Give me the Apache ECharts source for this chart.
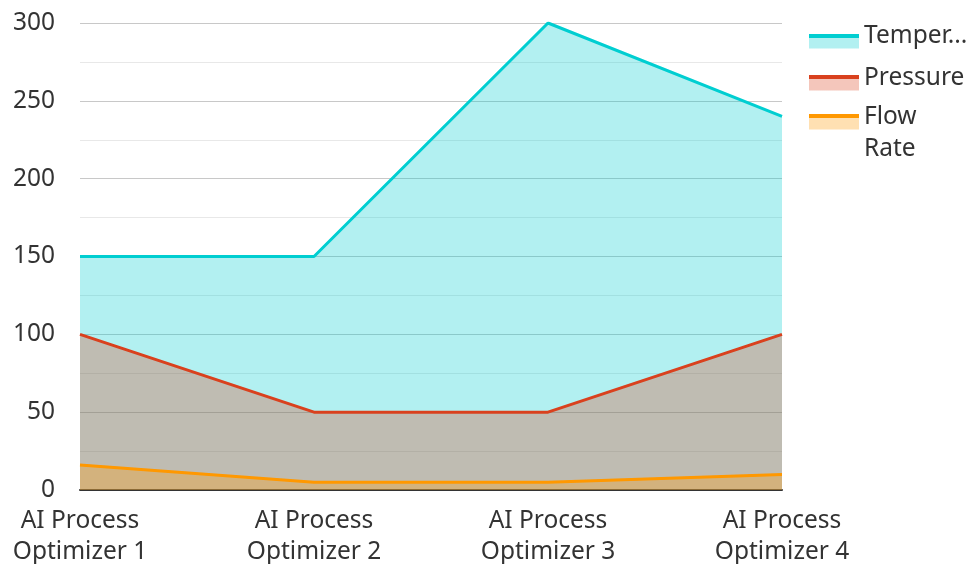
<!DOCTYPE html>
<html>
<head>
<meta charset="utf-8">
<script src="https://cdn.jsdelivr.net/npm/echarts@6/dist/echarts.min.js"></script>
<style>
html,body{margin:0;padding:0;background:#fff;}
#chart{width:972px;height:564px;}
</style>
</head>
<body>
<div id="chart"></div>
<script>
var categories = ['AI Process Optimizer 1', 'AI Process Optimizer 2', 'AI Process Optimizer 3', 'AI Process Optimizer 4'];
var temperature = [150, 150, 300, 240];
var pressure = [100, 50, 50, 100];
var flowRate = [16, 5, 5, 10];
var seriesNames = ['Temperature', 'Pressure', 'Flow Rate'];
var colors = ['#00CED1', '#D9411E', '#FF9800'];
var lightColors = ['#B2F0F1', '#F4C6BB', '#FFE0B2'];

var FONT = '"Noto Sans", sans-serif';
var FS = 24.5;

function wrapWords(text, maxChars) {
  var words = text.split(' ');
  var lines = [];
  var cur = '';
  words.forEach(function (w) {
    if (cur && (cur + ' ' + w).length > maxChars) {
      lines.push(cur);
      cur = w;
    } else {
      cur = cur ? cur + ' ' + w : w;
    }
  });
  if (cur) lines.push(cur);
  return lines.join('\n');
}

function legendItem(i) {
  return {
    name: seriesNames[i],
    icon: 'rect',
    itemStyle: {
      color: {
        type: 'linear', x: 0, y: 0, x2: 0, y2: 1,
        colorStops: [
          {offset: 0, color: 'rgba(255,255,255,0)'},
          {offset: 0.4, color: 'rgba(255,255,255,0)'},
          {offset: 0.4, color: colors[i]},
          {offset: 0.56, color: colors[i]},
          {offset: 0.56, color: lightColors[i]},
          {offset: 1, color: lightColors[i]}
        ]
      }
    }
  };
}

var chart = echarts.init(document.getElementById('chart'), null, {renderer: 'canvas'});
var dataArr = [temperature, pressure, flowRate];
var series = seriesNames.map(function (n, i) {
  return {
    name: n,
    type: 'line',
    data: dataArr[i],
    symbol: 'none',
    showSymbol: false,
    color: colors[i],
    lineStyle: {width: 3, color: colors[i]},
    areaStyle: {color: colors[i], opacity: 0.3},
    z: 2 + i
  };
});

var legendText = {
  fontFamily: FONT, fontSize: FS, color: '#333', lineHeight: 32,
  width: 112, overflow: 'truncate'
};

chart.setOption({
  animation: false,
  textStyle: {fontFamily: FONT},
  grid: {left: 80, right: 190, top: 23, bottom: 74, containLabel: false, outerBoundsMode: 'none'},
  legend: [{
    orient: 'vertical',
    left: 804,
    top: 15,
    itemWidth: 50,
    itemHeight: 25,
    itemGap: 10,
    data: [legendItem(0), legendItem(1)],
    textStyle: legendText
  }, {
    orient: 'vertical',
    left: 804,
    top: 64,
    itemWidth: 50,
    itemHeight: 25,
    itemGap: 10,
    data: [legendItem(2)],
    formatter: function (name) { return '\n' + name.split(' ').join('\n'); },
    textStyle: legendText
  }],
  xAxis: {
    type: 'category',
    data: categories,
    boundaryGap: false,
    axisLine: {show: true, lineStyle: {color: '#333', width: 2}},
    axisTick: {show: false},
    splitLine: {show: false},
    axisLabel: {
      fontFamily: FONT, fontSize: FS, color: '#333', lineHeight: 31,
      margin: 16, interval: 0,
      formatter: function (v) { return wrapWords(v, 12); }
    }
  },
  yAxis: {
    type: 'value',
    min: 0,
    max: 300,
    interval: 50,
    axisLine: {show: false},
    axisTick: {show: false},
    axisLabel: {fontFamily: FONT, fontSize: FS, color: '#333', margin: 25},
    splitLine: {show: true, lineStyle: {color: '#C8C8C8', width: 1}},
    minorTick: {show: false, splitNumber: 2},
    minorSplitLine: {show: true, lineStyle: {color: '#E8E8E8', width: 1}}
  },
  series: series
});
</script>
</body>
</html>
